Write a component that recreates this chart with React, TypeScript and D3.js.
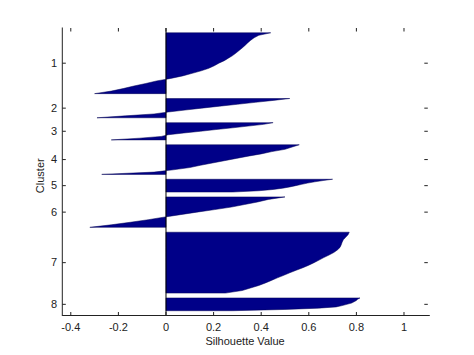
import React from "react";
import * as d3 from "d3";

// Cluster names and the number of points in each cluster
const clusterNames = ["1", "2", "3", "4", "5", "6", "7", "8"];
const clusterSizes = [300, 95, 85, 146, 63, 150, 300, 63];

// Sorted silhouette profile of each cluster, read at evenly spaced ranks (top to bottom)
const profile1 = [0.44, 0.39, 0.37, 0.355, 0.343, 0.332, 0.32, 0.307, 0.294, 0.28, 0.262, 0.245, 0.222, 0.203, 0.18, 0.148, 0.11, 0.07, 0.02, -0.04, -0.085, -0.135, -0.18, -0.23, -0.3];
const profile2 = [0.52, 0.45, 0.375, 0.3, 0.225, 0.15, 0.08, 0.01, -0.05, -0.17, -0.29];
const profile3 = [0.45, 0.41, 0.345, 0.28, 0.21, 0.145, 0.075, 0.01, -0.02, -0.11, -0.23];
const profile4 = [0.56, 0.53, 0.5, 0.445, 0.4, 0.345, 0.295, 0.245, 0.195, 0.145, 0.1, 0.03, -0.05, -0.27];
const profile5 = [0.7, 0.66, 0.625, 0.595, 0.57, 0.545, 0.52, 0.49, 0.45, 0.39, 0.28];
const profile6 = [0.5, 0.43, 0.385, 0.33, 0.275, 0.205, 0.13, 0.06, -0.01, -0.075, -0.15, -0.23, -0.32];
const profile7 = [0.77, 0.765, 0.755, 0.745, 0.74, 0.736, 0.731, 0.72, 0.705, 0.685, 0.663, 0.643, 0.622, 0.6, 0.575, 0.547, 0.52, 0.495, 0.468, 0.443, 0.418, 0.39, 0.355, 0.32, 0.25];
const profile8 = [0.815, 0.805, 0.8, 0.79, 0.78, 0.76, 0.74, 0.715, 0.64, 0.5, 0.28];
const profiles = [profile1, profile2, profile3, profile4, profile5, profile6, profile7, profile8];

const xTicks = [-0.4, -0.2, 0, 0.2, 0.4, 0.6, 0.8, 1];
const xDomain = [-0.4357, 1.1];

export default function App() {
  const n = d3.sum(clusterSizes);
  const space = Math.max(Math.floor(0.02 * n), 2);

  let pos = space;
  const layout: { start: number; end: number }[] = [];
  clusterSizes.forEach((s) => {
    layout.push({ start: pos + 1, end: pos + s });
    pos += s + space;
  });
  const L = pos;
  const ticks = layout.map((g) => (g.start + g.end) / 2);

  const left = 62.3, right = 427.8, top = 28, bottom = 315.5;
  const x = d3.scaleLinear().domain(xDomain).range([left, right]);
  const y = d3.scaleLinear().domain([1, L]).range([top, bottom]);

  const area = d3
    .area<{ yy: number; v: number }>()
    .y((d) => y(d.yy))
    .x0(x(0))
    .x1((d) => x(d.v));

  const paths = profiles.map((p, k) => {
    const g = layout[k];
    const y0 = g.start - 0.5;
    const y1 = g.end + 0.5;
    const pts = p.map((v, j) => ({ yy: y0 + (j / (p.length - 1)) * (y1 - y0), v }));
    return area(pts) || "";
  });

  const font = "'Liberation Sans', Arial, Helvetica, sans-serif";
  const tl = 3.5;
  const col = "#222";

  return (
    <svg width={474} height={355} style={{ position: "absolute", left: 0, top: 0, background: "#fff" }}>
      <rect x={0} y={0} width={474} height={355} fill="#fff" />
      {paths.map((p, k) => (
        <path key={k} d={p} fill="#000088" stroke="#000055" strokeWidth={0.5} />
      ))}
      <line x1={x(0)} x2={x(0)} y1={top} y2={bottom} stroke="#000" strokeWidth={1} />
      <line x1={left} x2={left} y1={top - 0.5} y2={bottom + 0.5} stroke={col} strokeWidth={1} />
      <line x1={left} x2={right + 2} y1={bottom} y2={bottom} stroke={col} strokeWidth={1} />
      {xTicks.map((t) => (
        <g key={"xt" + t}>
          <line x1={x(t)} x2={x(t)} y1={bottom} y2={bottom - tl} stroke={col} strokeWidth={1} />
          <line x1={x(t)} x2={x(t)} y1={top} y2={top + tl} stroke={col} strokeWidth={1} />
          <text x={x(t)} y={330.5} textAnchor="middle" fontFamily={font} fontSize={11} fill={col}>
            {String(t)}
          </text>
        </g>
      ))}
      {ticks.map((t, k) => (
        <g key={"yt" + k}>
          <line x1={left} x2={left + tl} y1={y(t)} y2={y(t)} stroke={col} strokeWidth={1} />
          <line x1={right} x2={right - tl} y1={y(t)} y2={y(t)} stroke={col} strokeWidth={1} />
          <text x={57} y={y(t)} dy="0.35em" textAnchor="end" fontFamily={font} fontSize={11} fill={col}>
            {clusterNames[k]}
          </text>
        </g>
      ))}
      <text x={(left + right) / 2} y={344.5} textAnchor="middle" fontFamily={font} fontSize={11} fill={col}>
        Silhouette Value
      </text>
      <text
        transform={`translate(40,${(top + bottom) / 2 + 4}) rotate(-90)`}
        textAnchor="middle"
        dy="0.35em"
        fontFamily={font}
        fontSize={11}
        fill={col}
      >
        Cluster
      </text>
    </svg>
  );
}
